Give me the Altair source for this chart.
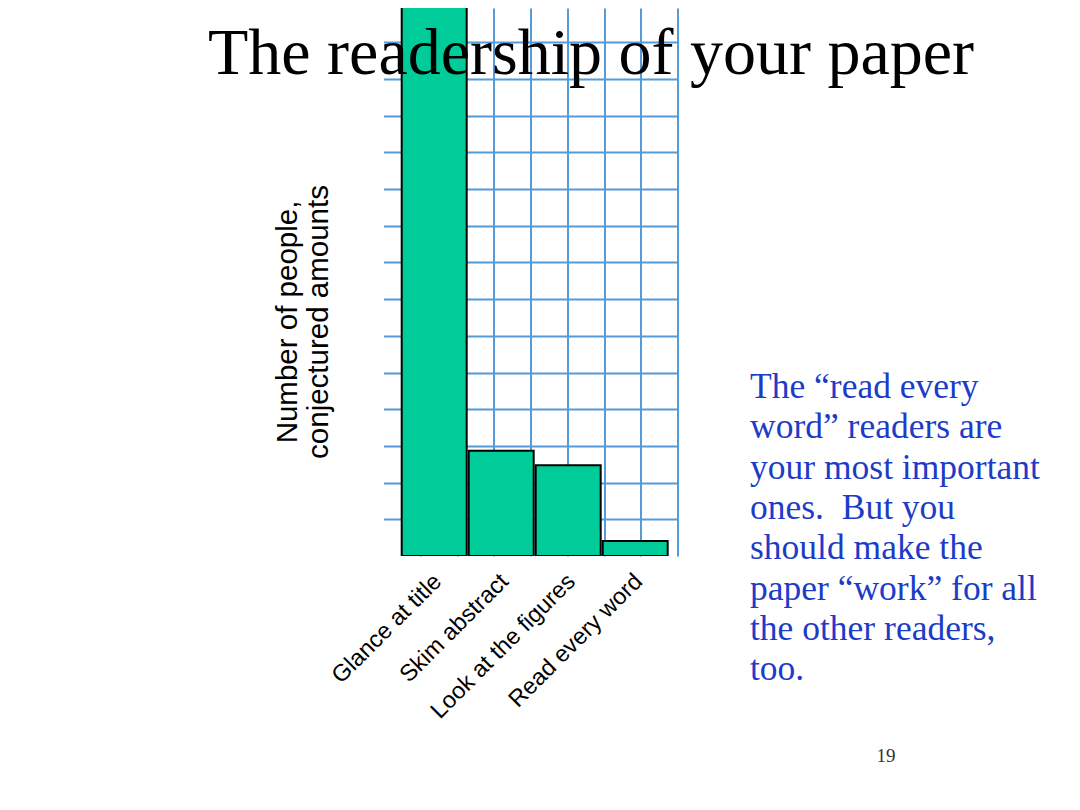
import altair as alt
import pandas as pd

# ---- data ----
categories = ["Glance at title", "Skim abstract", "Look at the figures", "Read every word"]
people = [16.0, 2.87, 2.47, 0.41]   # conjectured amounts (grid units); first bar runs off the top

title_text = ["The readership of your paper"]
note_lines = [
    "The \u201cread every",
    "word\u201d readers are",
    "your most important",
    "ones.\u00a0 But you",
    "should make the",
    "paper \u201cwork\u201d for all",
    "the other readers,",
    "too.",
]
y_title_lines = ["Number of people,", "conjectured amounts"]
page_number = ["19"]

grid_x_values = [1, 2, 3, 4, 5, 6, 7, 8]
grid_y_values = list(range(1, 15))

df = pd.DataFrame({"activity": categories, "people": people})

W, H = 294, 548
GRID = "#559AD9"
Y_MAX = H / 36.7

base = alt.Chart(df)

# vertical grid (quantitative x) layer
vgrid = base.mark_point(opacity=0).encode(
    x=alt.X("q:Q", scale=alt.Scale(domain=[0, 8], nice=False, zero=False),
            axis=alt.Axis(values=grid_x_values, grid=True, gridColor=GRID, gridWidth=2,
                          labels=False, ticks=False, domain=False, title=None, orient="top")),
    y=alt.Y("people:Q", scale=alt.Scale(domain=[0, Y_MAX], nice=False),
            axis=alt.Axis(values=grid_y_values, grid=True, gridColor=GRID, gridWidth=2,
                          labels=False, ticks=False, domain=False, title=None)),
).transform_calculate(q="0")

bars = base.mark_bar(color="#00CC99", stroke="#000000", strokeWidth=2, clip=True).encode(
    x=alt.X("activity:N", sort=categories,
            scale=alt.Scale(range=[18.2, 284.2], paddingInner=0.03, paddingOuter=0),
            axis=alt.Axis(labelAngle=-45, labelFont="Liberation Sans", labelFontSize=23.5,
                          labelColor="#000000", labelPadding=13, labelOffset=-5, ticks=False,
                          domain=False, title=None, orient="bottom", labelLimit=400)),
    y=alt.Y("people:Q", scale=alt.Scale(domain=[0, Y_MAX], nice=False)),
)

title_mark = alt.Chart(pd.DataFrame({"t": title_text})).mark_text(
    font="Liberation Serif", fontSize=66, color="#000000", align="center", baseline="alphabetic"
).encode(x=alt.value(207.5), y=alt.value(66), text="t:N")

note_mark = alt.Chart(pd.DataFrame({"t": ["\n".join(note_lines)]})).mark_text(
    font="Liberation Serif", fontSize=35.5, color="#1C3CC8", align="left", baseline="alphabetic",
    lineBreak="\n", lineHeight=40.3
).encode(x=alt.value(366.5), y=alt.value(390), text="t:N")

ytitle_mark = alt.Chart(pd.DataFrame({"t": ["\n".join(y_title_lines)]})).mark_text(
    font="Liberation Sans", fontSize=29.5, color="#000000", align="center", baseline="middle",
    angle=270, lineBreak="\n", lineHeight=31
).encode(x=alt.value(-96), y=alt.value(314), text="t:N")

page_mark = alt.Chart(pd.DataFrame({"t": page_number})).mark_text(
    font="Liberation Serif", fontSize=19, color="#333333", align="center", baseline="alphabetic"
).encode(x=alt.value(502.5), y=alt.value(754), text="t:N")

chart = alt.layer(vgrid, bars, title_mark, note_mark, ytitle_mark, page_mark).resolve_scale(
    x="independent"
).resolve_axis(x="independent").properties(
    width=W, height=H,
    autosize=alt.AutoSizeParams(type="none"),
    padding={"left": 375.5, "top": 0, "right": 394.5, "bottom": 246},
    background="white",
).configure_view(stroke=None)

chart.save("out.html", embed_options={"renderer": "svg", "actions": False})
